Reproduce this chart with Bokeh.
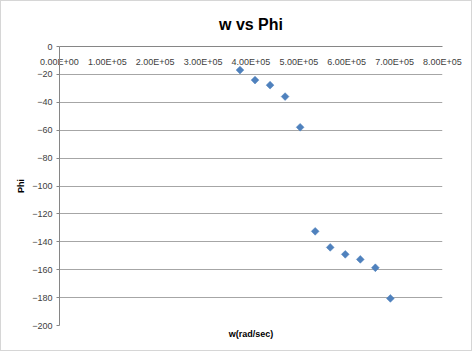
import math
from bokeh.plotting import figure
from bokeh.models import FixedTicker, Range1d, Title
from bokeh.embed import file_html
from bokeh.resources import INLINE

# data
w_rad_sec = [376991, 408407, 439823, 471239, 502655, 534071,
             565487, 596903, 628318, 659734, 691150]
phi_deg = [-16.9, -24.1, -27.7, -35.9, -57.9, -132.5,
           -144.0, -149.0, -152.6, -158.6, -180.6]
x_ticks = [0, 100000, 200000, 300000, 400000, 500000, 600000, 700000, 800000]
x_tick_labels = ["0.00E+00", "1.00E+05", "2.00E+05", "3.00E+05", "4.00E+05",
                 "5.00E+05", "6.00E+05", "7.00E+05", "8.00E+05"]
y_ticks = [0, -20, -40, -60, -80, -100, -120, -140, -160, -180, -200]

FONT = "Liberation Sans"
TXT = "#404040"

p = figure(width=472, height=351, output_backend="svg", toolbar_location=None,
           x_range=Range1d(0, 800000), y_range=Range1d(-200, 0),
           x_axis_location="above", y_axis_location="left",
           min_border_left=58, min_border_right=31, min_border_top=45,
           min_border_bottom=27)
p.styles = {"border": "1px solid #d6d6d6"}
p.outline_line_color = None
p.background_fill_color = "white"
p.border_fill_color = "white"

p.title.text = "w vs Phi"
p.title.align = "center"
p.title.text_font = FONT
p.title.text_font_size = "16px"
p.title.text_font_style = "bold"
p.title.text_color = "#000000"

# y axis
p.yaxis.ticker = FixedTicker(ticks=y_ticks)
p.yaxis.axis_label = "Phi"
p.yaxis.axis_label_text_font = FONT
p.yaxis.axis_label_text_font_size = "9px"
p.yaxis.axis_label_text_font_style = "bold"
p.yaxis.axis_label_text_color = "#000000"
p.yaxis.axis_label_standoff = 3
p.yaxis.major_label_text_font = FONT
p.yaxis.major_label_text_font_size = "9px"
p.yaxis.major_label_text_color = TXT
p.yaxis.axis_line_color = "#868686"
p.yaxis.major_tick_line_color = "#868686"
p.yaxis.major_tick_out = 3
p.yaxis.major_tick_in = 0
p.yaxis.minor_tick_line_color = None
p.yaxis.major_label_standoff = 4

# x axis at phi = 0 (top of the frame), labels drawn just below the line
xa = p.xaxis[0]
xa.ticker = FixedTicker(ticks=x_ticks)
xa.major_label_overrides = {t: l for t, l in zip(x_ticks, x_tick_labels)}
xa.major_label_text_font = FONT
xa.major_label_text_font_size = "9px"
xa.major_label_text_color = TXT
xa.axis_line_color = "#868686"
xa.major_tick_line_color = None
xa.minor_tick_line_color = None
xa.major_tick_out = 0
xa.major_tick_in = 0
xa.major_label_standoff = -20
xa.axis_label = " "
xa.axis_label_text_font_size = "9px"
xa.axis_label_standoff = 3

p.add_layout(Title(text="w(rad/sec)", align="center", text_font=FONT,
                   text_font_size="9px", text_font_style="bold",
                   text_color="#000000", standoff=2), "below")

p.xgrid.visible = False
p.ygrid.ticker = FixedTicker(ticks=y_ticks)
p.ygrid.grid_line_color = "#a6a6a6"

p.scatter(w_rad_sec, phi_deg, marker="square", size=5.5, angle=math.pi / 4,
          fill_color="#4F81BD", line_color="#4A7EBB", line_width=0.5)

open("out.html", "w").write(file_html(p, INLINE))
